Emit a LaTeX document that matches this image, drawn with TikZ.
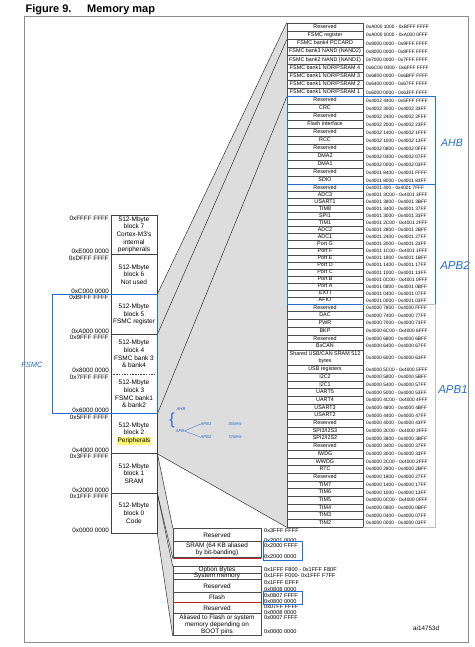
\documentclass[tikz,border=0pt]{standalone}
\usepackage{fontspec}
\setmainfont{Liberation Sans}
\usepackage{tikz}
\usepackage{xcolor}
\usetikzlibrary{backgrounds}

\definecolor{penblue}{RGB}{35,110,210}
\definecolor{zoomgray}{RGB}{221,221,221}
\definecolor{hlyellow}{RGB}{255,248,120}
\definecolor{redline}{RGB}{185,40,40}
\setlength{\fboxsep}{0.6pt}

\begin{document}
\begin{tikzpicture}[
    x=1pt, y=-1pt,
    block/.style={draw=black!75, line width=0.6pt, fill=white, minimum width=46pt, minimum height=39.75pt, inner sep=0pt, align=center, font=\fontsize{6.5}{7.7}\selectfont},
    lbl/.style={anchor=east, inner sep=0pt, font=\fontsize{6.3}{7}\selectfont},
    cell/.style={draw=black!70, line width=0.5pt, fill=white, inner sep=0pt},
    row/.style={cell, minimum width=76pt, text height=3.9pt, text depth=1.1pt, font=\fontsize{5.4}{6}\selectfont},
    addr/.style={anchor=west, inner sep=0pt, font=\fontsize{4.8}{5}\selectfont},
    low/.style={cell, minimum width=88pt, font=\fontsize{6.4}{7}\selectfont},
    lowaddr/.style={anchor=west, inner sep=0pt, font=\fontsize{5.6}{6}\selectfont},
    zoomline/.style={draw=black!80, line width=0.5pt},
    grp/.style={draw=penblue, line width=0.8pt},
    hw/.style={text=penblue, inner sep=0pt, font=\itshape\fontsize{10.5}{10.5}\selectfont},
    hws/.style={text=penblue, inner sep=0pt, font=\itshape\fontsize{4.2}{4.2}\selectfont}
]
\useasboundingbox (0,0) rectangle (474,647);

\node[anchor=base west, inner sep=0pt, font=\bfseries\fontsize{11}{13}\selectfont] (fignum) at (25.5,13) {Figure 9.};
\node[anchor=base west, inner sep=0pt, font=\bfseries\fontsize{11}{13}\selectfont] (figtitle) at (87,13) {Memory map};
\draw[draw=black!45, line width=0.9pt] (24.5,16) rectangle (468,642);

\node[block] (b7) at (134,234.9) {512-Mbyte\\block 7\\Cortex-M3's\\internal\\peripherals};
\node[block] (b6) at (134,274.6) {512-Mbyte\\block 6\\Not used};
\node[block] (b5) at (134,314.4) {512-Mbyte\\block 5\\FSMC register};
\node[block] (b4) at (134,354.1) {512-Mbyte\\block 4\\FSMC bank 3\\\& bank4};
\node[block] (b3) at (134,393.9) {512-Mbyte\\block 3\\FSMC bank1\\\& bank2};
\node[block] (b2) at (134,433.6) {512-Mbyte\\block 2\\\colorbox{hlyellow}{Peripherals}};
\node[block] (b1) at (134,473.4) {512-Mbyte\\block 1\\SRAM};
\node[block] (b0) at (134,513.1) {512-Mbyte\\block 0\\Code};
\draw[white, line width=1pt] (b4.south west) -- (b4.south east);
\draw[black!75, line width=0.6pt, dash pattern=on 1.5pt off 1.2pt] (b4.south west) -- (b4.south east);

\foreach \t/\y [count=\i] in {{0xFFFF FFFF}/218, {0xE000 0000}/251.5, {0xDFFF FFFF}/258,
    {0xC000 0000}/291.3, {0xBFFF FFFF}/297.7, {0xA000 0000}/331, {0x9FFF FFFF}/337.5,
    {0x8000 0000}/370.8, {0x7FFF FFFF}/377.2, {0x6000 0000}/410.5, {0x5FFF FFFF}/417,
    {0x4000 0000}/450.3, {0x3FFF FFFF}/456.7, {0x2000 0000}/490, {0x1FFF FFFF}/496.5,
    {0x0000 0000}/530.5}
  \node[lbl] (bnd\i) at (109,\y) {\t};

\foreach \nm/\ad [count=\i] in {
    {Reserved}/{0xA000 1000 - 0xBFFF FFFF},
    {FSMC register}/{0xA000 0000 - 0xA000 0FFF},
    {FSMC bank4 PCCARD}/{0x9000 0000 - 0x9FFF FFFF},
    {FSMC bank3 NAND (NAND2)}/{0x8000 0000 - 0x8FFF FFFF},
    {FSMC bank2 NAND (NAND1)}/{0x7000 0000 - 0x7FFF FFFF},
    {FSMC bank1 NOR/PSRAM 4}/{0x6C00 0000 - 0x6FFF FFFF},
    {FSMC bank1 NOR/PSRAM 3}/{0x6800 0000 - 0x6BFF FFFF},
    {FSMC bank1 NOR/PSRAM 2}/{0x6400 0000 - 0x67FF FFFF},
    {FSMC bank1 NOR/PSRAM 1}/{0x6000 0000 - 0x63FF FFFF}} {
  \node[row, minimum height=8.17pt] (fs\i) at (325,{23+(\i-0.5)*8.17}) {\nm};
  \node[addr] (fsa\i) at (366,{23+(\i-0.5)*8.17}) {\ad};
}

\foreach \nm/\ad [count=\i] in {
    {Reserved}/{0x4002 4400 - 0x5FFF FFFF},
    {CRC}/{0x4002 3000 - 0x4002 33FF},
    {Reserved}/{0x4002 2400 - 0x4002 2FFF},
    {Flash interface}/{0x4002 2000 - 0x4002 23FF},
    {Reserved}/{0x4002 1400 - 0x4002 1FFF},
    {RCC}/{0x4002 1000 - 0x4002 13FF},
    {Reserved}/{0x4002 0800 - 0x4002 0FFF},
    {DMA2}/{0x4002 0400 - 0x4002 07FF},
    {DMA1}/{0x4002 0000 - 0x4002 03FF},
    {Reserved}/{0x4001 8400 - 0x4001 FFFF},
    {SDIO}/{0x4001 8000 - 0x4001 83FF}} {
  \node[row, minimum height=8pt] (ahb\i) at (325,{96.5+(\i-0.5)*8}) {\nm};
  \node[addr] (ahba\i) at (366,{96.5+(\i-0.5)*8}) {\ad};
}

\foreach \nm/\ad [count=\i] in {
    {Reserved}/{0x4001 400 - 0x4001 7FFF},
    {ADC3}/{0x4001 3C00 - 0x4001 3FFF},
    {USART1}/{0x4001 3800 - 0x4001 3BFF},
    {TIM8}/{0x4001 3400 - 0x4001 37FF},
    {SPI1}/{0x4001 3000 - 0x4001 33FF},
    {TIM1}/{0x4001 2C00 - 0x4001 2FFF},
    {ADC2}/{0x4001 2800 - 0x4001 2BFF},
    {ADC1}/{0x4001 2400 - 0x4001 27FF},
    {Port G}/{0x4001 2000 - 0x4001 23FF},
    {Port F}/{0x4001 1C00 - 0x4001 1FFF},
    {Port E}/{0x4001 1800 - 0x4001 1BFF},
    {Port D}/{0x4001 1400 - 0x4001 17FF},
    {Port C}/{0x4001 1000 - 0x4001 13FF},
    {Port B}/{0x4001 0C00 - 0x4001 0FFF},
    {Port A}/{0x4001 0800 - 0x4001 0BFF},
    {EXTI}/{0x4001 0400 - 0x4001 07FF},
    {AFIO}/{0x4001 0000 - 0x4001 03FF}} {
  \node[row, minimum height=7.03pt] (pbb\i) at (325,{184.5+(\i-0.5)*7.03}) {\nm};
  \node[addr] (pbba\i) at (366,{184.5+(\i-0.5)*7.03}) {\ad};
}

\foreach \nm/\ad [count=\i] in {
    {Reserved}/{0x4000 7800 - 0x4000 FFFF},
    {DAC}/{0x4000 7400 - 0x4000 77FF},
    {PWR}/{0x4000 7000 - 0x4000 73FF},
    {BKP}/{0x4000 6C00 - 0x4000 6FFF},
    {Reserved}/{0x4000 6800 - 0x4000 6BFF},
    {BxCAN}/{0x4000 6400 - 0x4000 67FF}} {
  \node[row, minimum height=7.69pt] (pba\i) at (325,{304+(\i-0.5)*7.69}) {\nm};
  \node[addr] (pbaa\i) at (366,{304+(\i-0.5)*7.69}) {\ad};
}
\node[cell, minimum width=76pt, minimum height=15.38pt, align=center, font=\fontsize{5.4}{6.4}\selectfont] (pba7) at (325,357.8) {Shared USB/CAN SRAM 512\\bytes};
\node[addr] (pbaa7) at (366,357.8) {0x4000 6000 - 0x4000 63FF};
\foreach \nm/\ad [count=\i from 8] in {
    {USB registers}/{0x4000 5C00 - 0x4000 5FFF},
    {I2C2}/{0x4000 5800 - 0x4000 5BFF},
    {I2C1}/{0x4000 5400 - 0x4000 57FF},
    {UART5}/{0x4000 5000 - 0x4000 53FF},
    {UART4}/{0x4000 4C00 - 0x4000 4FFF},
    {USART3}/{0x4000 4800 - 0x4000 4BFF},
    {USART2}/{0x4000 4400 - 0x4000 47FF},
    {Reserved}/{0x4000 4000 - 0x4000 43FF},
    {SPI3/I2S3}/{0x4000 3C00 - 0x4000 3FFF},
    {SPI2/I2S2}/{0x4000 3800 - 0x4000 3BFF},
    {Reserved}/{0x4000 3400 - 0x4000 37FF},
    {IWDG}/{0x4000 3000 - 0x4000 33FF},
    {WWDG}/{0x4000 2C00 - 0x4000 2FFF},
    {RTC}/{0x4000 2800 - 0x4000 2BFF},
    {Reserved}/{0x4000 1800 - 0x4000 27FF},
    {TIM7}/{0x4000 1400 - 0x4000 17FF},
    {TIM6}/{0x4000 1000 - 0x4000 13FF},
    {TIM5}/{0x4000 0C00 - 0x4000 0FFF},
    {TIM4}/{0x4000 0800 - 0x4000 0BFF},
    {TIM3}/{0x4000 0400 - 0x4000 07FF},
    {TIM2}/{0x4000 0000 - 0x4000 03FF}} {
  \node[row, minimum height=7.69pt] (pba\i) at (325,{304+(\i+0.5)*7.69}) {\nm};
  \node[addr] (pbaa\i) at (366,{304+(\i+0.5)*7.69}) {\ad};
}

\node[low, minimum height=13.7pt] (s1) at (217,534.85) {Reserved};
\node[low, minimum height=16pt, align=center] (s2) at (217,549.7) {SRAM (64 KB aliased\\by bit-banding)};
\node[low, minimum height=6.6pt, text height=4pt, text depth=1pt] (c1) at (217,570) {Option Bytes};
\node[low, minimum height=6pt, text height=4pt, text depth=1pt] (c2) at (217,576.3) {System memory};
\node[low, minimum height=13.4pt] (c3) at (217,586) {Reserved};
\node[low, minimum height=9.6pt] (c4) at (217,597.5) {Flash};
\node[low, minimum height=11pt] (c5) at (217,607.8) {Reserved};
\node[low, minimum height=22.4pt, align=center] (c6) at (217,624.5) {Aliased to Flash or system\\memory depending on\\BOOT pins};
\draw[redline, line width=0.9pt] (s2.south west) -- (s2.south east);
\draw[redline, line width=0.9pt] (c4.south west) -- (c4.south east);

\foreach \t/\y [count=\i] in {{0x3FFF FFFF}/531, {0x2001 0000}/540.5, {0x2000 FFFF}/546, {0x2000 0000}/557,
    {0x1FFF F800 - 0x1FFF F80F}/569.7, {0x1FFF F000- 0x1FFF F7FF}/576, {0x1FFF EFFF}/582.7,
    {0x0808 0000}/589.5, {0x0807 FFFF}/595.5, {0x0800 0000}/601.5, {0x07FF FFFF}/607,
    {0x0008 0000}/612.3, {0x0007 FFFF}/618, {0x0000 0000}/632}
  \node[lowaddr] (la\i) at (264,\y) {\t};

\node[anchor=base west, inner sep=0pt, font=\fontsize{6.3}{7}\selectfont] (figid) at (413,630) {ai14753d};

\begin{scope}[on background layer]
\fill[zoomgray] (b5.north east) -- (fs1.north west) -- (pba28.south west) -- (b2.south east) -- cycle;
\fill[zoomgray] (b1.north east) -- (s1.north west) -- (s2.south west) -- (b1.south east) -- cycle;
\fill[zoomgray] (b0.north east) -- (c1.north west) -- (c6.south west) -- (b0.south east) -- cycle;
\end{scope}
\draw[zoomline] (b5.north east) -- (fs1.north west);
\draw[zoomline] (b5.south east) -- (fs2.south west);
\draw[zoomline] (b3.south east) -- (fs9.south west);
\draw[zoomline] (b2.south east) -- (pba28.south west);
\draw[zoomline] (b1.north east) -- (s1.north west);
\draw[zoomline] (b1.south east) -- (s2.south west);
\draw[zoomline] (b0.north east) -- (c1.north west);
\draw[zoomline] (b0.south east) -- (c6.south west);

\draw[grp] (52,294.5) rectangle (157,413.75);
\draw[grp] (287,96.5) rectangle (435,184.5);
\draw[grp] (287,184.5) rectangle (435,304);
\draw[draw=black!25, line width=0.6pt] (363,304) -| (435,527) -- (363,527);
\draw[draw=penblue, line width=0.6pt] (263,541.7) rectangle (302,560.7);
\draw[draw=penblue, line width=0.6pt] (263,591.7) rectangle (302,604);

\node[hw] (ahbnote) at (452,143) {AHB};
\node[hw, font=\itshape\fontsize{11.5}{11.5}\selectfont] (apb2note) at (455,265) {APB2};
\node[hw, font=\itshape\fontsize{11.5}{11.5}\selectfont] (apb1note) at (453,390) {APB1};
\node[hw, font=\itshape\fontsize{7.5}{7.5}\selectfont] (fsmcnote) at (32,365) {FSMC};
\node[hws] (ahbs) at (181,409) {AHB};
\node[hws] (apbs) at (180,431) {APB};
\node[hws, font=\fontsize{16}{16}\selectfont] (brc) at (172,420) {\{};
\node[hws] (apb1s) at (206,424) {APB1};
\node[hws] (apb2s) at (206,437) {APB2};
\node[hws] (clk1) at (235,424) {36MHz};
\node[hws] (clk2) at (235,437) {72MHz};
\draw[penblue, line width=0.3pt] (apbs.east) -- (apb1s.west);
\draw[penblue, line width=0.3pt] (apbs.east) -- (apb2s.west);

\end{tikzpicture}
\end{document}
